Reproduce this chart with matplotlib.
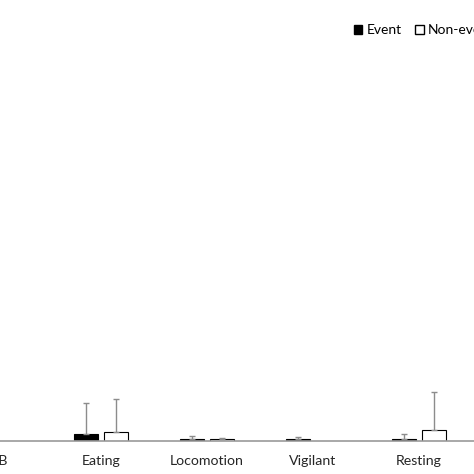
import numpy as np
import matplotlib
matplotlib.use('Agg')
import matplotlib.pyplot as plt
from matplotlib.patches import Patch

# Data (percent of time)
categories = ["ARB", "Eating", "Locomotion", "Vigilant", "Resting", ""]
event_mean = [0, 1.55, 0.43, 0.30, 0.43, 0]
event_sd = [0, 7.45, 0.80, 0.55, 1.20, 0]
nonevent_mean = [0, 2.10, 0.30, 0, 2.43, 0]
nonevent_sd = [0, 7.80, 0.37, 0, 9.20, 0]

# axes run a little past the figure edges so the cut-off first label still shows
fig = plt.figure(figsize=(4.74, 4.74), dpi=100)
ax = fig.add_axes([-10 / 474, 0.0703, 494 / 474, 0.8844])

x = np.arange(len(categories))
off = 0.1415
w = 0.231

def draw(xs, means, sds, face):
    means = np.array(means, dtype=float)
    sds = np.array(sds, dtype=float)
    keep = means > 0
    ax.bar(xs[keep], means[keep], width=w, color=face, edgecolor='black', linewidth=0.8, zorder=2)
    ax.errorbar(xs[keep], means[keep], yerr=[np.zeros(keep.sum()), sds[keep]], fmt='none',
                ecolor='#8c8c8c', elinewidth=1, capsize=2.5, capthick=1, zorder=3)

draw(x - off, event_mean, event_sd, 'black')
draw(x + off, nonevent_mean, nonevent_sd, 'white')

ax.set_xticks(x)
ax.set_xticklabels(categories, fontsize=10.2, family='Lato', color='#262626')
ax.set_xlim(-0.047, -0.047 + 494 / 106)
ax.set_ylim(0, 100)
ax.tick_params(axis='x', length=0, pad=10)
ax.set_yticks([])
for s in ['top', 'left', 'right']:
    ax.spines[s].set_visible(False)
ax.spines['bottom'].set_color('#9a9a9a')
ax.spines['bottom'].set_linewidth(1.2)

handles = [Patch(facecolor='black', edgecolor='black', label='Event'),
           Patch(facecolor='white', edgecolor='black', label='Non-event')]
fig.legend(handles=handles, loc='upper left', bbox_to_anchor=(0.72, 0.975), ncol=2,
           frameon=False, handlelength=0.6, handleheight=0.6, handletextpad=0.3,
           columnspacing=1.0, prop={'family': 'Lato', 'size': 10})

fig.savefig('out.png', dpi=100)
